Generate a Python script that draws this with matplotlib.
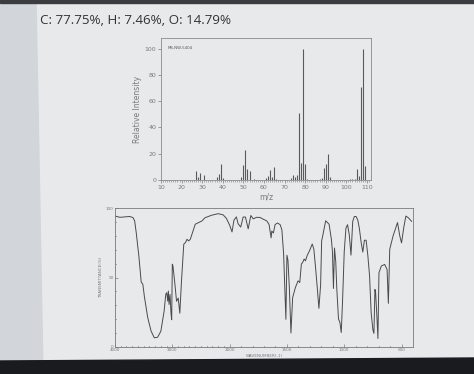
import matplotlib
matplotlib.use("Agg")
import numpy as np
import matplotlib.pyplot as plt
from matplotlib.patches import Polygon

# ======================
# data
# ======================
title = "C: 77.75%, H: 7.46%, O: 14.79%"

# mass spectrum (m/z, relative intensity)
ms_mz = [27, 28, 29, 31, 37, 38, 39, 40, 49, 50, 51, 52, 53, 55, 61, 62, 63, 64,
         65, 66, 73, 74, 75, 76, 77, 78, 79, 80, 81, 87, 88, 89, 90, 91, 92,
         102, 103, 104, 105, 106, 107, 108, 109]
ms_int = [6.5, 2.5, 5, 3.5, 2.5, 4.5, 12, 1.5, 2, 11.5, 22.5, 8, 7, 1, 1.5, 3, 7.5, 2,
          10, 1, 1.5, 4, 2.5, 3.5, 51, 13, 100, 12, 1, 1, 1.5, 9.5, 12, 20, 2,
          1, 1, 1, 8, 3, 71, 100, 11]

# IR spectrum (wavenumber, transmittance %)
ir_wn = [4000, 3914, 3743, 3686, 3657, 3629, 3583, 3543, 3514, 3486, 3429, 3371,
         3314, 3257, 3200, 3143, 3114, 3097, 3080, 3069, 3057, 3040, 3023, 3011,
         3000, 2989, 2954, 2926, 2897, 2869, 2840, 2800, 2771, 2743, 2714, 2686,
         2657, 2600, 2543, 2486, 2429, 2314, 2200, 2114, 2057, 2000, 1979, 1962,
         1941, 1926, 1903, 1882, 1862, 1838, 1815, 1794, 1765, 1735, 1706, 1676,
         1656, 1638, 1632, 1618, 1603, 1582, 1559, 1544, 1529, 1515, 1509, 1500,
         1491, 1479, 1465, 1450, 1426, 1403, 1388, 1374, 1362, 1350, 1338, 1324,
         1303, 1279, 1265, 1250, 1235, 1221, 1206, 1197, 1185, 1162, 1132, 1112,
         1103, 1094, 1085, 1074, 1065, 1050, 1038, 1026, 1015, 1000, 985, 971,
         956, 941, 926, 912, 897, 882, 868, 853, 838, 824, 809, 794, 779, 765,
         750, 741, 732, 726, 715, 706, 697, 676, 647, 626, 615, 603, 574, 535,
         515, 500, 479, 462, 441, 426, 412]
ir_t = [94.2, 93.3, 93.9, 93.1, 90.7, 82.1, 65.1, 46.8, 45.1, 35.9, 21.2, 11.5,
        6.6, 7.0, 11.3, 25.8, 37.9, 39.1, 33.0, 40.3, 30.6, 37.8, 24.4, 19.6,
        59.6, 58.4, 45.0, 32.9, 35.2, 24.3, 47.3, 74.0, 75.1, 77.5, 76.3, 77.5,
        81.1, 88.3, 89.5, 90.6, 93.0, 94.8, 95.9, 95.1, 92.6, 87.7, 82.8, 91.3,
        93.6, 88.7, 86.3, 93.5, 93.5, 85.0, 94.6, 92.2, 93.3, 93.2, 91.9, 90.7,
        88.2, 78.5, 83.4, 82.0, 88.1, 89.2, 88.0, 84.3, 67.3, 33.3, 19.9, 66.0,
        62.4, 42.9, 10.1, 35.6, 42.8, 47.6, 46.4, 59.7, 60.9, 63.3, 62.0, 65.7,
        69.2, 74.1, 70.4, 57.0, 42.4, 27.8, 44.8, 76.3, 81.1, 90.8, 88.3, 77.4,
        68.8, 42.1, 71.2, 61.5, 42.1, 20.2, 17.7, 10.4, 32.2, 68.6, 85.5, 88.0,
        80.7, 66.1, 90.3, 93.9, 93.9, 91.4, 85.3, 75.6, 68.3, 76.8, 76.8, 65.8,
        51.2, 24.5, 12.3, 9.8, 41.4, 38.9, 21.9, 6.1, 53.4, 58.3, 59.4, 55.7,
        31.4, 70.3, 79.9, 89.5, 79.8, 74.9, 86.8, 94.2, 93.0, 91.7, 90.4]

ir_ticks = [4000, 3000, 2000, 1500, 1000, 500]

W, H = 474, 374
fig = plt.figure(figsize=(W / 100, H / 100), dpi=100)
fig.patch.set_facecolor("#e7e9eb")

# slide / photo background
bg = fig.add_axes([0, 0, 1, 1], zorder=-5)
bg.set_xlim(0, W)
bg.set_ylim(H, 0)
bg.axis("off")
bg.add_patch(Polygon([(0, 0), (36, 0), (43, H), (0, H)], color="#d2d5d9"))
bg.add_patch(Polygon([(0, 0), (W, 0), (W, 3), (0, 3)], color="#3a3c40"))
bg.add_patch(Polygon([(0, 361), (W, 358), (W, H), (0, H)], color="#1a1b1e"))

fig.text(40 / W, 1 - 21 / H, title, fontsize=9.6, family="Open Sans",
         color="#333333", va="center", ha="left")

grey = "#7a7a7a"

# ======================
# mass spectrum
# ======================
ax1 = fig.add_axes([161 / W, 1 - 180 / H, 210 / W, 142 / H])
ax1.set_facecolor("none")
ax1.vlines(ms_mz, 0, ms_int, color="#5a5a5a", lw=0.8)
ax1.set_xlim(10, 112)
ax1.set_ylim(0, 108)
ax1.set_xticks(range(10, 111, 10))
ax1.set_xticks(range(10, 112, 1), minor=True)
ax1.set_yticks(range(0, 101, 20))
ax1.tick_params(labelsize=4.5, colors=grey, length=2, width=0.5, pad=1.5)
ax1.tick_params(which="minor", length=1.2, width=0.4, colors=grey)
for s in ax1.spines.values():
    s.set_color("#8a8a8a")
    s.set_linewidth(0.6)
ax1.set_xlabel("m/z", fontsize=5.5, color=grey, labelpad=2)
ax1.set_ylabel("Relative Intensity", fontsize=5.5, color=grey, labelpad=2)
ax1.text(0.03, 0.93, "MS-NW-5404", transform=ax1.transAxes, fontsize=2.8,
         color="#555555", va="center")

# ======================
# IR spectrum (scale halves above 2000 cm-1)
# ======================
def fwd(w):
    w = np.asarray(w, float)
    return np.where(w > 2000, 2000 + (w - 2000) / 2, w)


def inv(p):
    p = np.asarray(p, float)
    return np.where(p > 2000, 2000 + (p - 2000) * 2, p)


ax2 = fig.add_axes([115 / W, 1 - 347 / H, 298 / W, 139 / H])
ax2.set_facecolor("none")
ax2.set_xscale("function", functions=(fwd, inv))
ax2.plot(ir_wn, ir_t, color="#4a4a4a", lw=0.7)
ax2.set_xlim(4000, 400)
ax2.set_ylim(0, 100)
ax2.set_xticks(ir_ticks)
ax2.set_xticklabels([str(t) for t in ir_ticks])
ax2.set_xticks(range(500, 4001, 100), minor=True)
ax2.set_xticklabels([], minor=True)
ax2.set_yticks([0, 50, 100])
ax2.set_yticks(range(0, 101, 10), minor=True)
ax2.set_yticklabels([], minor=True)
ax2.tick_params(labelsize=3, colors=grey, length=2, width=0.5, pad=1, direction="in")
ax2.tick_params(which="minor", length=1, width=0.4, direction="in")
for s in ax2.spines.values():
    s.set_color("#7a7a7a")
    s.set_linewidth(0.6)
ax2.set_xlabel("WAVENUMBER(-1)", fontsize=3, color=grey, labelpad=1)
ax2.set_ylabel("TRANSMITTANCE(%)", fontsize=3, color=grey, labelpad=2)

plt.savefig("out.png", dpi=100, facecolor=fig.get_facecolor())
